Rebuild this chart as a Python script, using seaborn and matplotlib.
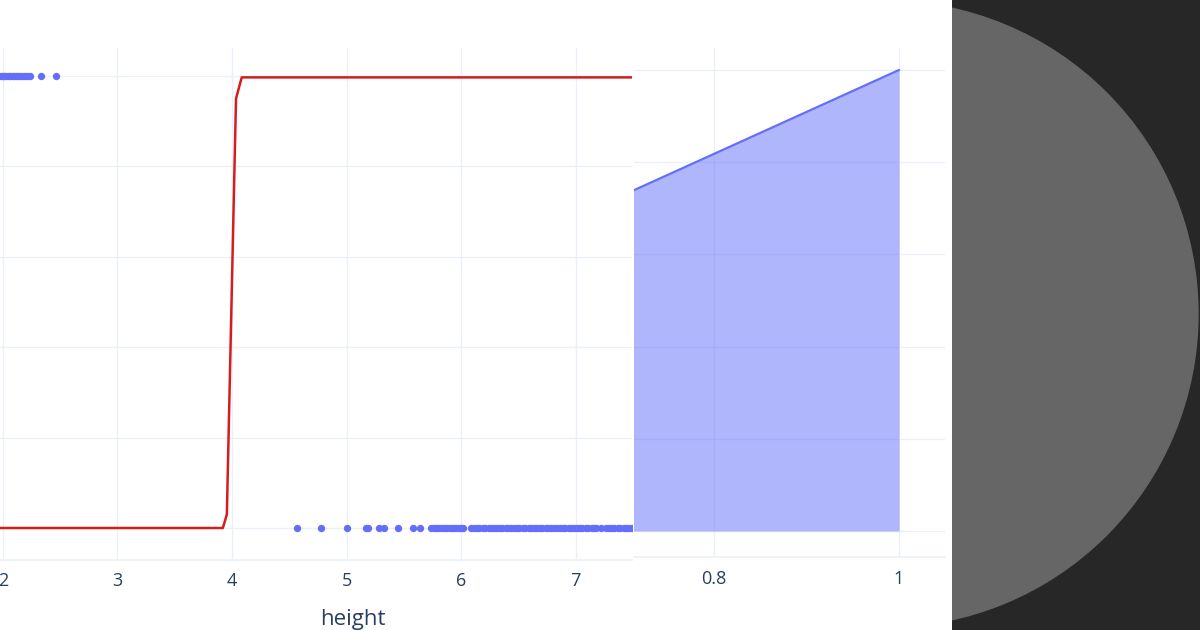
import numpy as np
import pandas as pd
import matplotlib.pyplot as plt
import seaborn as sns
from matplotlib.patches import Circle, Rectangle

# data
# class 1 points (short heights) and class 0 points (tall heights)
height_class1 = [1.93, 1.95, 1.96, 1.98, 2.0, 2.01, 2.03, 2.05, 2.06, 2.08, 2.1,
                 2.11, 2.13, 2.15, 2.17, 2.19, 2.21, 2.24, 2.33, 2.46]
height_class0 = [4.57, 4.78, 5.0, 5.17, 5.19, 5.28, 5.33, 5.45, 5.58, 5.64,
                 5.74, 5.76, 5.78, 5.8, 5.82, 5.84, 5.86, 5.88, 5.9, 5.92, 5.94,
                 5.96, 5.98, 6.0, 6.02,
                 6.09, 6.11, 6.14, 6.16, 6.19, 6.21, 6.24, 6.26, 6.29, 6.31, 6.34,
                 6.36, 6.39, 6.41, 6.44, 6.46, 6.49, 6.51, 6.54, 6.56, 6.59, 6.61,
                 6.64, 6.66, 6.69, 6.71, 6.74, 6.76, 6.79, 6.81, 6.84, 6.86, 6.89,
                 6.91, 6.94, 6.96, 6.99, 7.01, 7.04, 7.06, 7.09, 7.11, 7.14, 7.16,
                 7.18, 7.22,
                 7.27, 7.29, 7.32, 7.34, 7.37, 7.39, 7.42, 7.44, 7.47, 7.49, 7.52]

# fitted logistic curve
curve_x = [1.9, 3.92, 3.955, 4.035, 4.085, 7.6]
curve_p = [0.0, 0.0, 0.03, 0.95, 0.997, 0.997]

# ROC-style area
roc_fpr = [0.0, 0.0, 1.0]
roc_tpr = [0.0, 0.09, 1.0]

x_ticks_left = [2, 3, 4, 5, 6, 7]
x_ticks_mid = [0.8, 1.0]
x_tick_labels_mid = ['0.8', '1']
y_ticks = [0, 0.2, 0.4, 0.6, 0.8, 1.0]

GRID = '#EBF0F8'
TEXT = '#2a3f5f'
BLUE = '#636efa'

sns.set_theme(style='whitegrid', rc={'grid.color': GRID, 'grid.linewidth': 1.0,
                                     'axes.edgecolor': GRID})
plt.rcParams['font.family'] = ['Open Sans', 'DejaVu Sans']

fig = plt.figure(figsize=(12, 6.3), dpi=100)
fig.patch.set_facecolor('white')

W, H = 1200, 630


def px_axes(x0, y0, x1, y1):
    """axes from pixel box (top-left origin)"""
    return fig.add_axes([x0 / W, 1 - y1 / H, (x1 - x0) / W, (y1 - y0) / H])


def style(ax):
    for s in ['left', 'right', 'top']:
        ax.spines[s].set_visible(False)
    ax.spines['bottom'].set_color(GRID)
    ax.spines['bottom'].set_linewidth(1.2)
    ax.tick_params(axis='both', length=0, pad=9, labelsize=13, labelcolor=TEXT)
    ax.set_yticks(y_ticks)
    ax.set_yticklabels([])
    ax.set_ylabel('')


# left panel: logistic regression
pts = pd.DataFrame({'height': height_class1 + height_class0,
                    'label': [1] * len(height_class1) + [0] * len(height_class0)})
curve = pd.DataFrame({'height': curve_x, 'prob': curve_p})

ax1 = px_axes(0, 48, 632, 560)
sns.scatterplot(data=pts, x='height', y='label', ax=ax1, color=BLUE, s=28,
                linewidth=0, zorder=3)
sns.lineplot(data=curve, x='height', y='prob', ax=ax1, color='#d41e1e',
             linewidth=1.8, zorder=4)
ax1.set_xlim(1.974, 7.493)
ax1.set_ylim(-0.0708, 1.062)
ax1.set_xticks(x_ticks_left)
ax1.set_xticklabels([str(t) for t in x_ticks_left])
style(ax1)
# plotly centres the title over the full (partly hidden) domain
ax1.set_xlabel('height', fontsize=16, color=TEXT, labelpad=13)
ax1.xaxis.label.set_x(353 / 632)

# middle panel: area under curve
roc = pd.DataFrame({'fpr': roc_fpr, 'tpr': roc_tpr})
ax2 = px_axes(634, 48, 945, 557)
ax2.fill_between(roc['fpr'], roc['tpr'], color=BLUE, alpha=0.5, linewidth=0)
sns.lineplot(data=roc, x='fpr', y='tpr', ax=ax2, color=BLUE, linewidth=1.6,
             sort=False, estimator=None)
ax2.set_xlim(0.7135, 1.0497)
ax2.set_ylim(-0.0564, 1.0477)
ax2.set_xticks(x_ticks_mid)
ax2.set_xticklabels(x_tick_labels_mid)
style(ax2)
ax2.set_xlabel('')

# right panel: dark block with grey disc
ax3 = px_axes(952, 0, 1200, 630)
ax3.set_xlim(0, 248)
ax3.set_ylim(630, 0)
ax3.add_patch(Rectangle((0, 0), 248, 630, color='#272727', zorder=0))
ax3.add_patch(Circle((885 - 952, 314), 313, color='#666666', zorder=1))
ax3.set_axis_off()

fig.savefig('out.png', dpi=100)
